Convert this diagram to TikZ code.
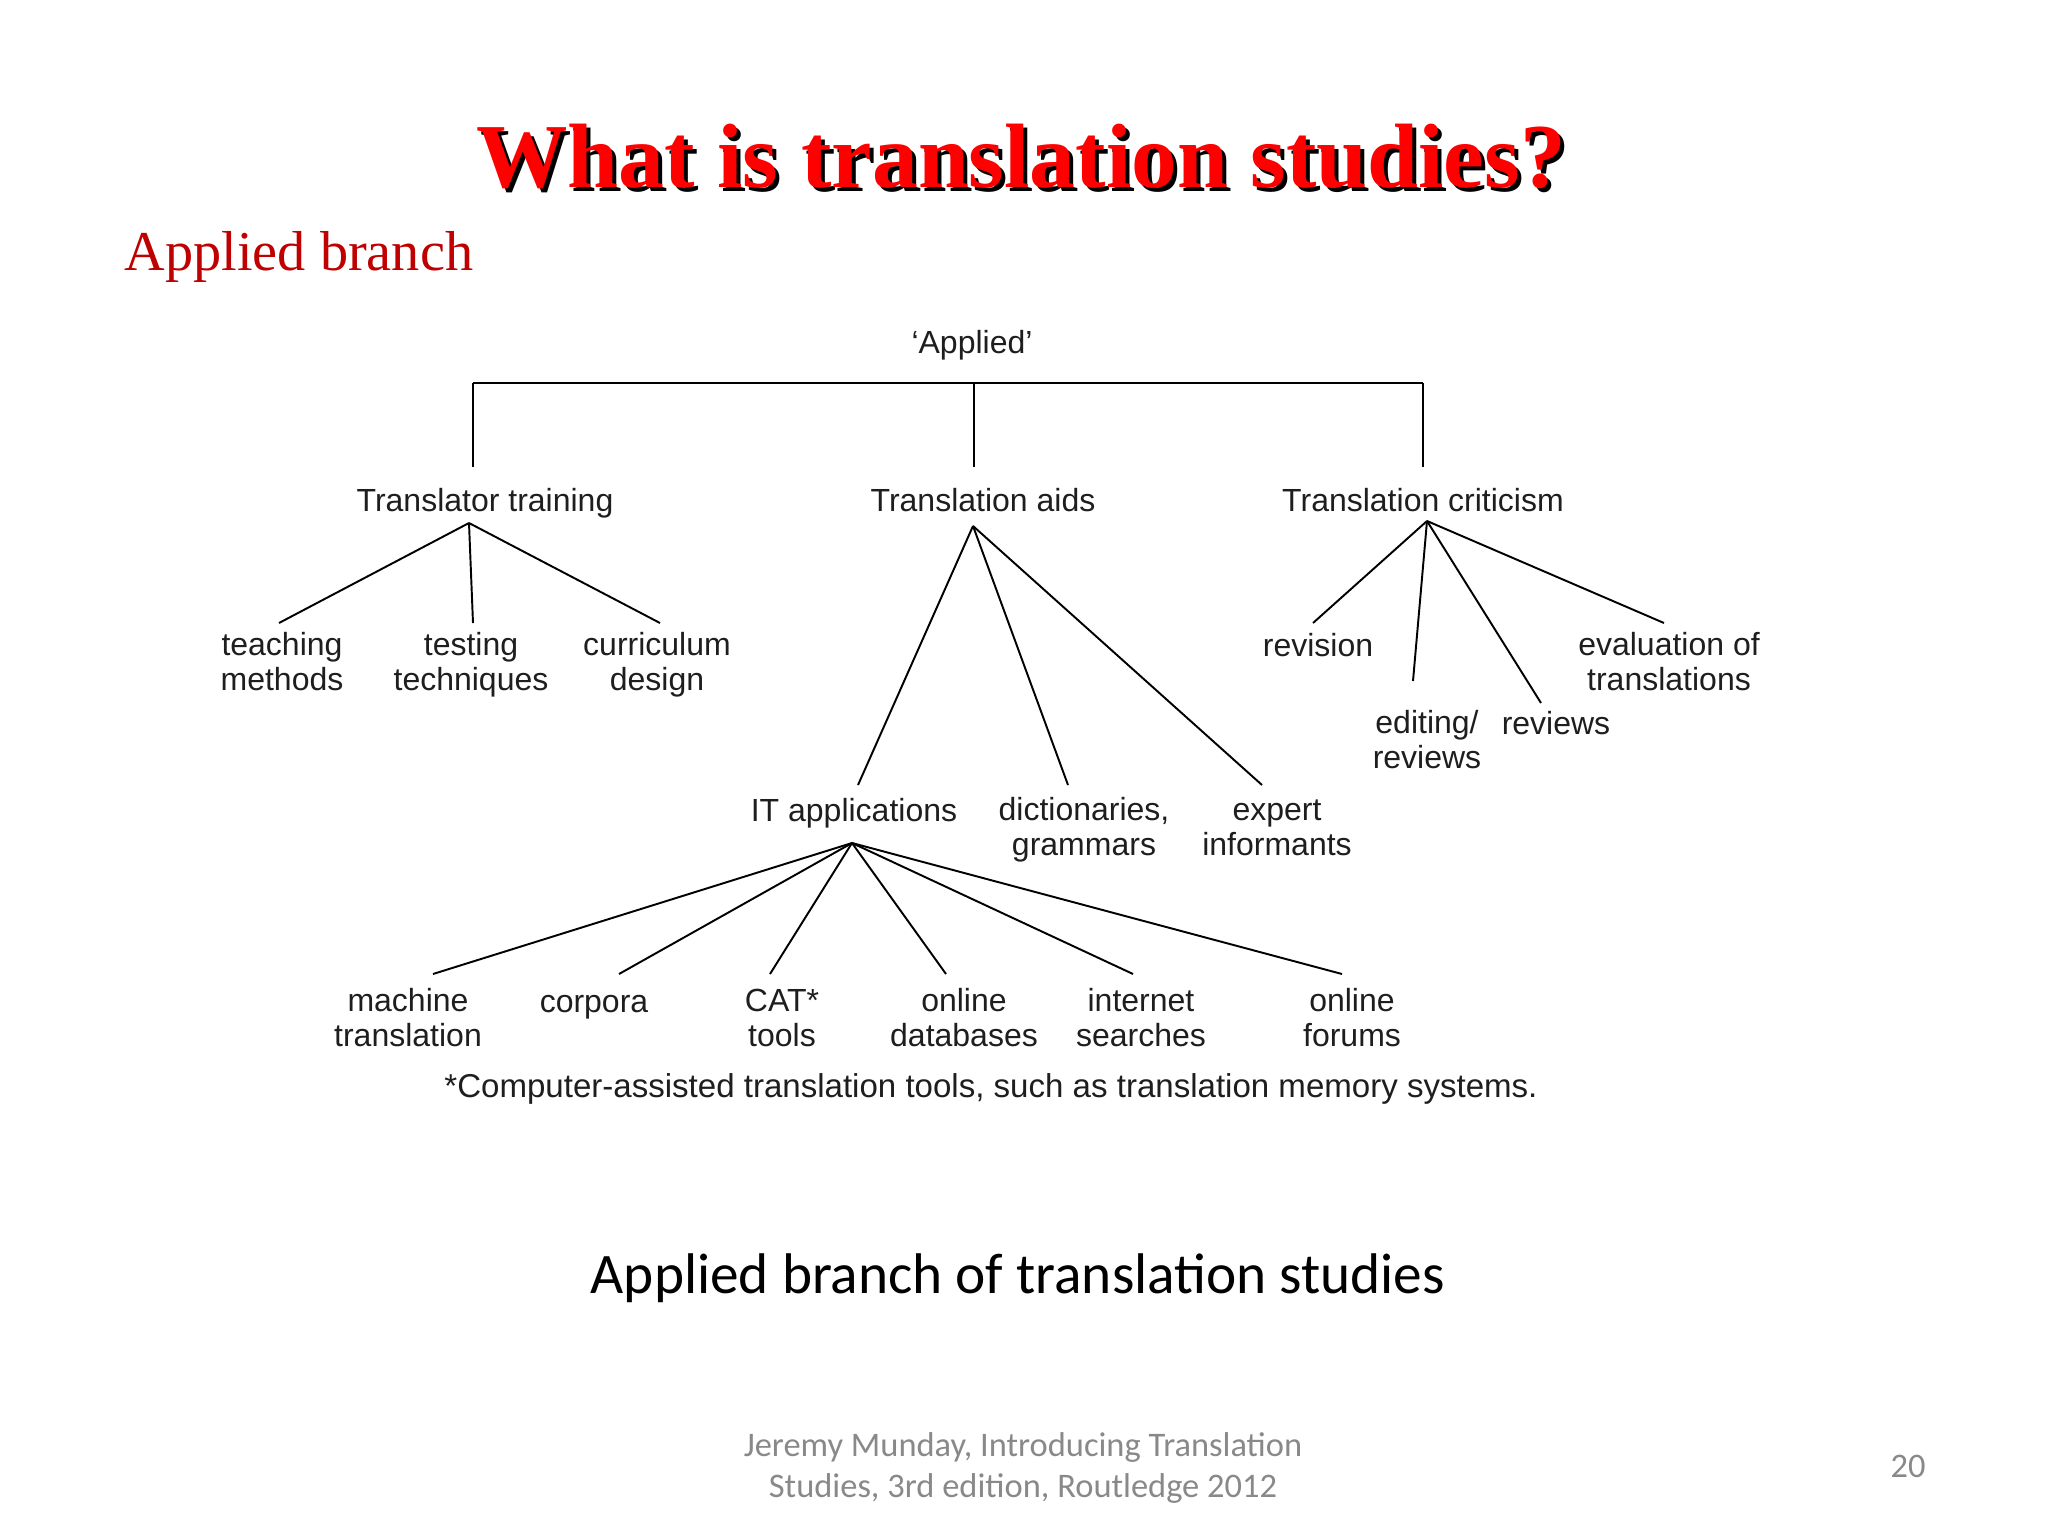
\documentclass[tikz,border=0pt]{standalone}
\usepackage{fontspec}
\setmainfont{Liberation Serif}
\newfontfamily\helv{Liberation Sans}
\newfontfamily\calib{Carlito}
\definecolor{branchred}{RGB}{192,0,0}
\definecolor{footgray}{RGB}{137,137,137}
\definecolor{figtext}{RGB}{30,30,30}
\newcommand{\figfont}{\helv\fontsize{9.1}{9.7}\selectfont}

\begin{document}
\begin{tikzpicture}[x=0.01cm, y=-0.01cm,
  lbl/.style={font=\figfont, text=figtext, inner sep=0pt, anchor=base, align=center},
  fanline/.style={line width=0.55pt},
  heading/.style={font=\fontsize{26}{30}\selectfont\bfseries, inner sep=0pt, anchor=base}]

\useasboundingbox (0,0) rectangle (2048,1536);

% title, red over a black shadow
\node[heading, text=black] (title-sh) at (1025,191) {What is translation studies?};
\node[heading, text=red] (title) at (1021,187) {What is translation studies?};
\node[anchor=base west, inner sep=0pt, text=branchred, font=\fontsize{16}{19}\selectfont] (branch) at (124,270) {Applied branch};

% top of the tree
\node[lbl] (root) at (972,353) {‘Applied’};
\coordinate (bar-l) at (473,383);
\coordinate (bar-m) at (974,383);
\coordinate (bar-r) at (1423,383);
\draw[line width=0.8pt] (bar-l) -- (bar-r);
\foreach \c in {bar-l,bar-m,bar-r}
  \draw[fanline] (\c) -- ++(0,84);

\node[lbl] (tt) at (485,511) {Translator training};
\node[lbl] (ta) at (983,511) {Translation aids};
\node[lbl] (tc) at (1423,511) {Translation criticism};

% translator training
\node[lbl] (teach) at (282,690) {teaching\\methods};
\node[lbl] (test) at (471,690) {testing\\techniques};
\node[lbl] (curr) at (657,690) {curriculum\\design};
\coordinate (tt-fan) at (469,523);
\coordinate (teach-end) at (279,623);
\coordinate (test-end) at (473,623);
\coordinate (curr-end) at (660,623);
\foreach \e in {teach,test,curr}
  \draw[fanline] (tt-fan) -- (\e-end);

% translation aids
\node[lbl] (it) at (854,821) {IT applications};
\node[lbl] (dict) at (1084,855) {dictionaries,\\grammars};
\node[lbl] (expert) at (1277,855) {expert\\informants};
\coordinate (ta-fan) at (973,526);
\coordinate (it-end) at (858,785);
\coordinate (dict-end) at (1068,785);
\coordinate (expert-end) at (1262,785);
\foreach \e in {it,dict,expert}
  \draw[fanline] (ta-fan) -- (\e-end);

% translation criticism
\node[lbl] (rev) at (1318,656) {revision};
\node[lbl] (edit) at (1427,768) {editing/\\reviews};
\node[lbl] (revs) at (1556,734) {reviews};
\node[lbl] (eval) at (1669,690) {evaluation of\\translations};
\coordinate (tc-fan) at (1427,521);
\coordinate (rev-end) at (1313,623);
\coordinate (edit-end) at (1413,681);
\coordinate (revs-end) at (1541,703);
\coordinate (eval-end) at (1664,623);
\foreach \e in {rev,edit,revs,eval}
  \draw[fanline] (tc-fan) -- (\e-end);

% IT applications
\node[lbl] (mt) at (408,1046) {machine\\translation};
\node[lbl] (corp) at (594,1012) {corpora};
\node[lbl] (cat) at (782,1046) {CAT*\\tools};
\node[lbl] (odb) at (964,1046) {online\\databases};
\node[lbl] (inet) at (1141,1046) {internet\\searches};
\node[lbl] (forum) at (1352,1046) {online\\forums};
\coordinate (it-fan) at (852,843);
\coordinate (mt-end) at (433,974);
\coordinate (corp-end) at (619,974);
\coordinate (cat-end) at (770,974);
\coordinate (odb-end) at (946,974);
\coordinate (inet-end) at (1133,974);
\coordinate (forum-end) at (1342,974);
\foreach \e in {mt,corp,cat,odb,inet,forum}
  \draw[fanline] (it-fan) -- (\e-end);

\node[lbl, font=\helv\fontsize{9.4}{10}\selectfont] (note) at (991,1097) {*Computer-assisted translation tools, such as translation memory systems.};

% caption and footer
\node[anchor=base, inner sep=0pt, font=\calib\fontsize{16.3}{19}\selectfont] (caption) at (1018,1293) {Applied branch of translation studies};
\node[anchor=base, inner sep=0pt, align=center, text=footgray, font=\calib\fontsize{9.8}{11.4}\selectfont] (source) at (1023,1497) {Jeremy Munday, Introducing Translation\\Studies, 3rd edition, Routledge 2012};
\node[anchor=base, inner sep=0pt, text=footgray, font=\calib\fontsize{9.8}{11.4}\selectfont] (page) at (1908,1477) {20};
\end{tikzpicture}
\end{document}
